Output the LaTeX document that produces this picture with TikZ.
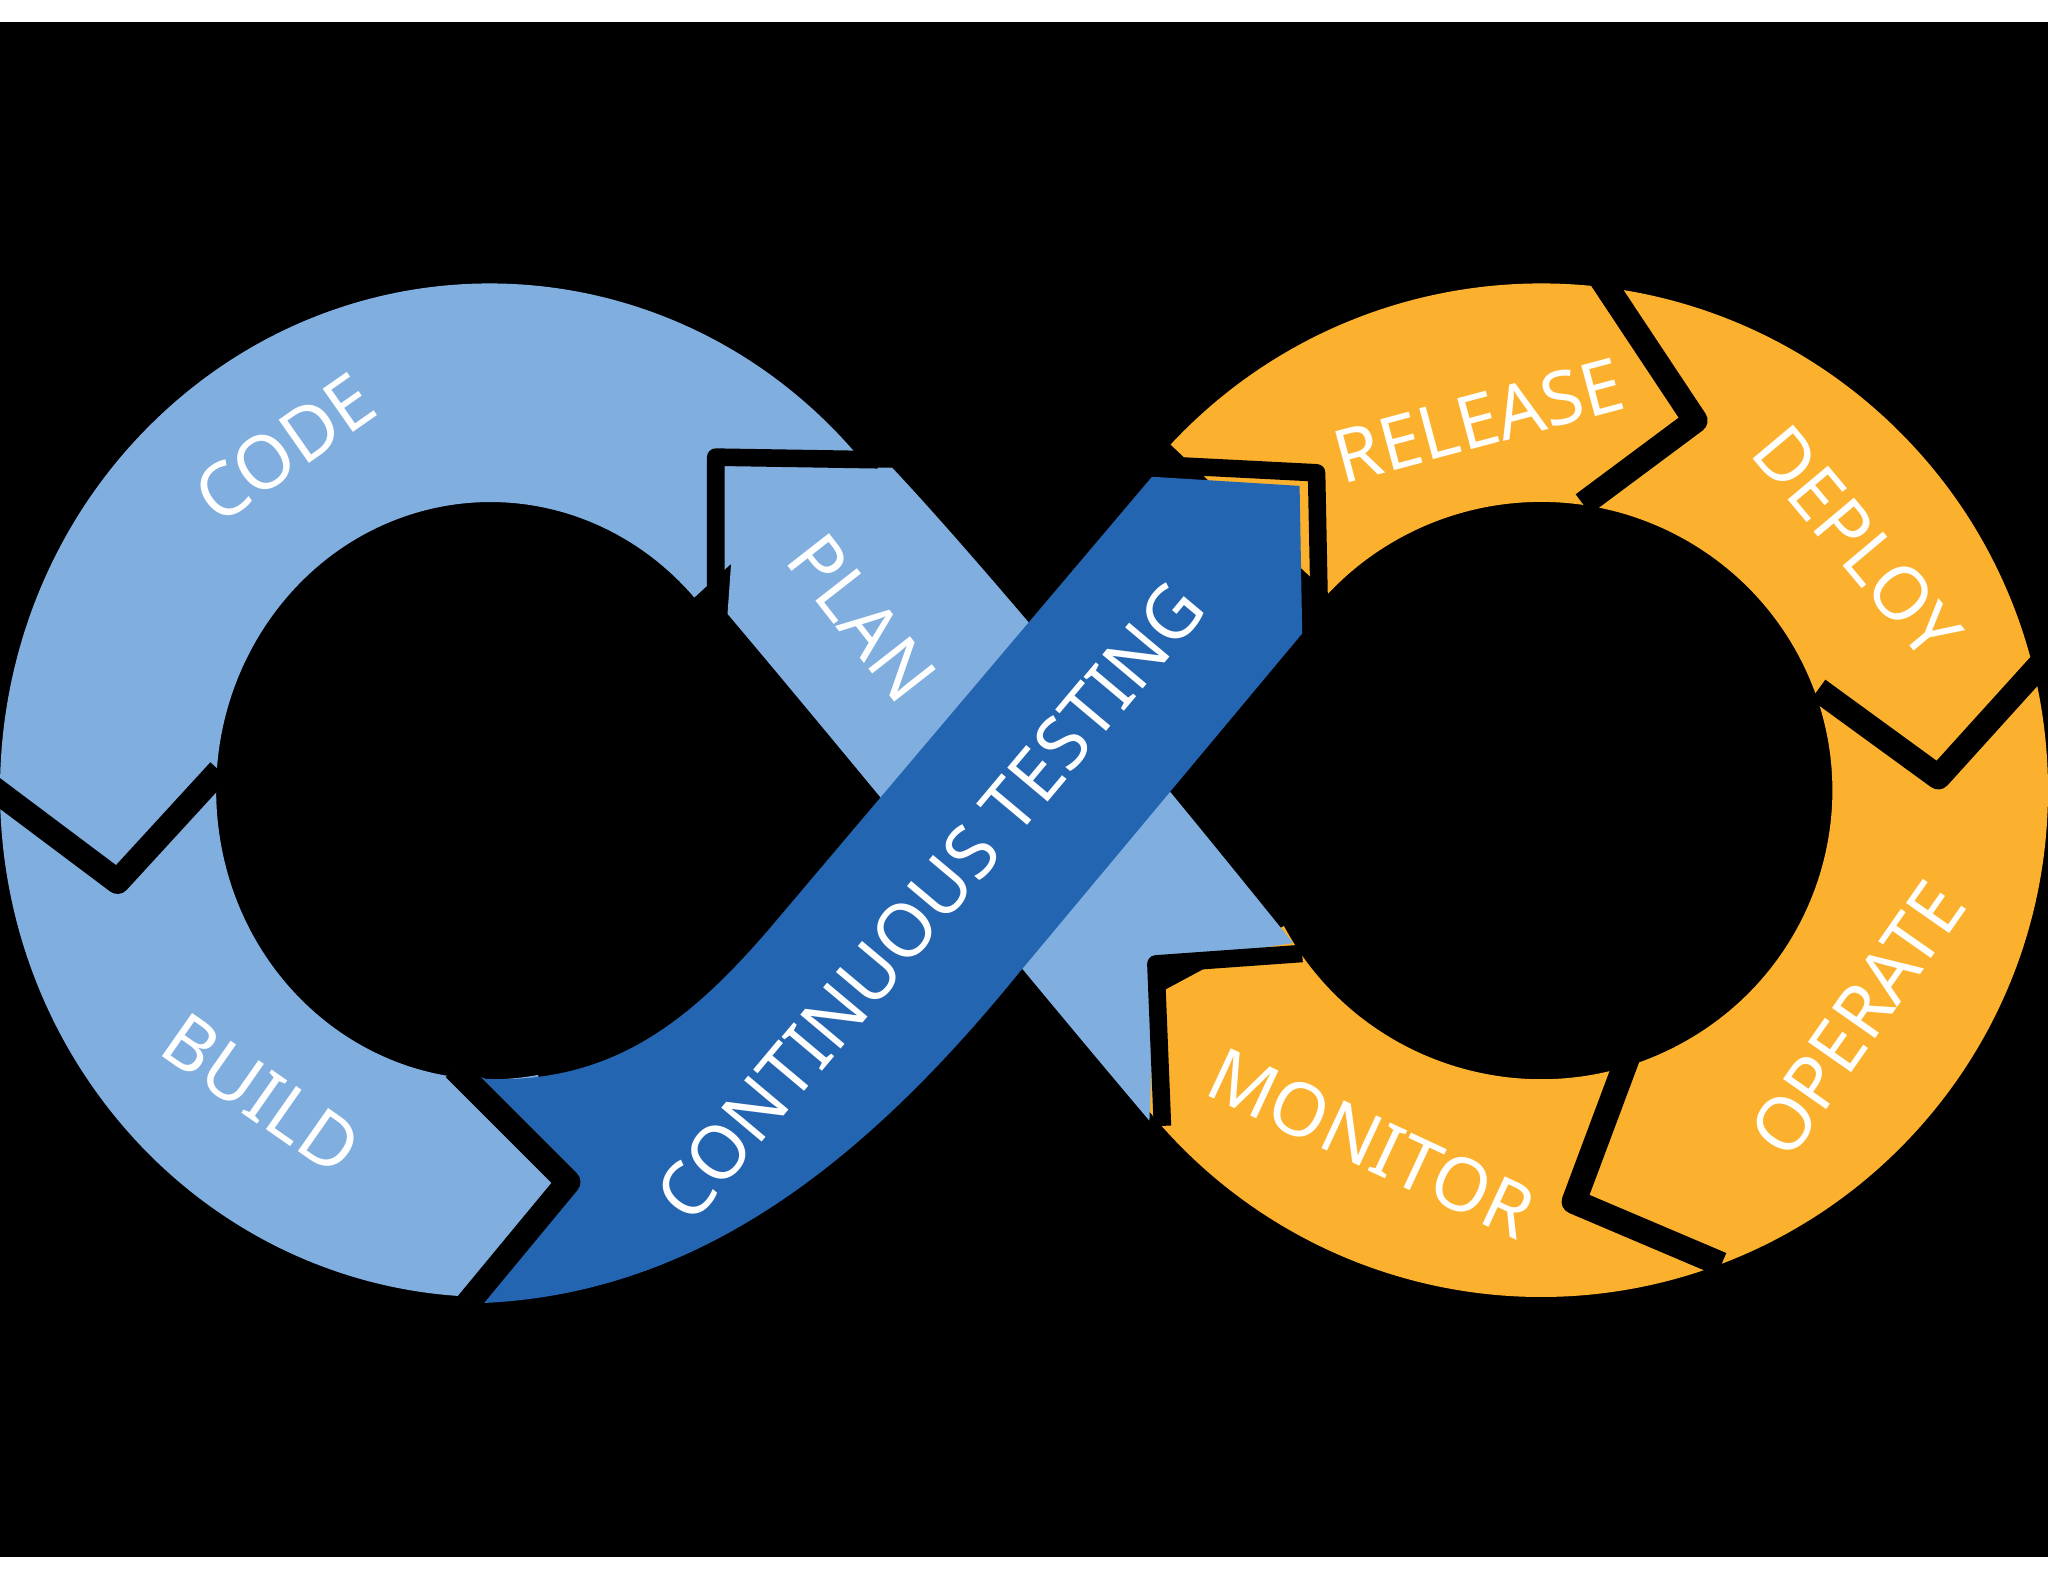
\documentclass[tikz,border=0pt]{standalone}
\usepackage{fontspec}
\setmainfont{Noto Sans}
\definecolor{lblue}{HTML}{80AEDE}
\definecolor{dblue}{HTML}{2465B1}
\definecolor{orng}{HTML}{FBB12D}
\tikzset{
  sep/.style={black, line width=7pt, line join=round},
  gap/.style={black, line width=5pt, line join=round},
  lbl/.style={text=white, font=\fontsize{21}{21}\selectfont}
}
\begin{document}
\begin{tikzpicture}[x=0.013061cm, y=-0.013061cm]

  \useasboundingbox (0,0) rectangle (1568,1211);
  \fill[white] (0,0) rectangle (1568,1211);
  \fill[black] (0,17) rectangle (1568,1192);

  % left ring: code and build
  \fill[lblue] (375,605) ++(-42:375 and 388)
    arc[start angle=-42, end angle=-280, x radius=375, y radius=388]
    -- (412,823)
    arc[start angle=-280, end angle=-42, x radius=210, y radius=221] -- cycle;

  % right ring: release to monitor
  \fill[orng] (1180,605) ++(-137:388 and 388)
    arc[start angle=-137, end angle=152, x radius=388, y radius=388]
    -- (983,709)
    arc[start angle=152, end angle=-137, x radius=223, y radius=221] -- cycle;

  % plan band
  \fill[lblue] (565,358) -- (683,358)
    .. controls (760,440) and (900,610) .. (990,722)
    -- (885,738) -- (880,858)
    .. controls (780,740) and (650,580) .. (557,470) -- cycle;

  % continuous testing band
  \fill[dblue] (348,818) -- (435,905) -- (358,998)
    .. controls (520,995) and (650,905) .. (780,745)
    -- (997,485) -- (995,372) -- (882,365) -- (590,710)
    .. controls (530,780) and (470,830) .. (372,826) -- cycle;

  % separators
  \draw[sep] (-10,600) -- (90,675) -- (168,590);
  \draw[sep] (348,818) -- (435,905) -- (358,998);
  \draw[gap] (548,470) -- (548,350) -- (672,352);
  \draw[gap] (890,356) -- (1008,362) -- (1010,462);
  \draw[sep] (1225,212) -- (1298,322) -- (1212,386);
  \draw[sep] (1570,500) -- (1484,595) -- (1392,528);
  \draw[sep] (1248,805) -- (1205,920) -- (1318,968);
  \draw[gap] (997,730) -- (885,738) -- (890,862);

  % labels (upright frame)
  \begin{scope}[y=0.013061cm]
    \node[lbl, rotate=35] (code) at (218,-343) {CODE};
    \node[lbl, rotate=-52] (plan) at (660,-473) {PLAN};
    \node[lbl, rotate=-35] (build) at (200,-838) {BUILD};
    \node[lbl, rotate=50] (ctest) at (712,-690) {CONTINUOUS TESTING};
    \node[lbl, rotate=15] (release) at (1132,-322) {RELEASE};
    \node[lbl, rotate=-50] (deploy) at (1422,-415) {DEPLOY};
    \node[lbl, rotate=55] (operate) at (1422,-780) {OPERATE};
    \node[lbl, rotate=-25] (monitor) at (1050,-875) {MONITOR};
  \end{scope}

\end{tikzpicture}
\end{document}
